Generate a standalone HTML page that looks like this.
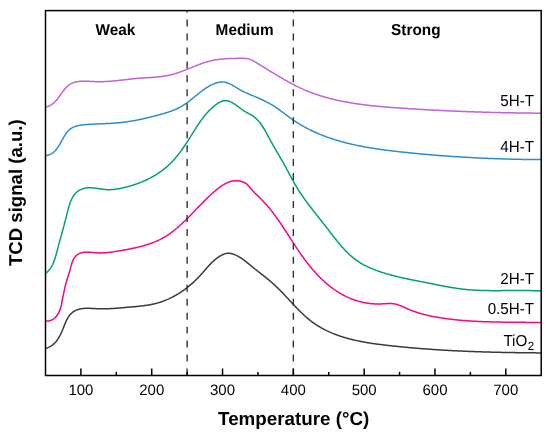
<!DOCTYPE html>
<html><head><meta charset="utf-8">
<style>
html,body{margin:0;padding:0;background:#fff;}
body{width:550px;height:432px;overflow:hidden;}
svg{display:block;}
text{font-family:"Liberation Sans",Arial,sans-serif;fill:#000;text-rendering:geometricPrecision;}
</style></head><body>
<svg width="550" height="432" viewBox="0 0 550 432">
<rect width="550" height="432" fill="#fff"/>
<g fill="none" stroke-width="1.5" stroke-linejoin="round" stroke-linecap="butt">
<path stroke="#BF62DB" d="M45.6,106.99 46.2,106.89 46.8,106.77 47.4,106.61 47.9,106.44 48.5,106.23 49.1,106.01 49.6,105.76 50.1,105.48 50.7,105.19 51.2,104.88 51.7,104.55 52.2,104.20 52.6,103.83 53.1,103.45 53.6,103.06 54.0,102.66 54.4,102.25 54.9,101.82 55.3,101.39 55.7,100.95 56.1,100.50 56.5,100.05 56.9,99.59 57.2,99.12 57.6,98.65 58.0,98.18 58.4,97.70 58.7,97.22 59.1,96.74 59.4,96.26 59.8,95.78 60.1,95.29 60.5,94.80 60.8,94.32 61.2,93.83 61.5,93.34 61.9,92.86 62.2,92.37 62.6,91.89 63.0,91.41 63.3,90.93 63.7,90.46 64.1,89.98 64.4,89.52 64.8,89.06 65.2,88.60 65.6,88.15 66.0,87.71 66.4,87.27 66.8,86.85 67.3,86.43 67.7,86.02 68.2,85.63 68.6,85.26 69.1,84.89 69.6,84.55 70.1,84.22 70.6,83.92 71.2,83.63 71.7,83.36 72.2,83.11 72.8,82.88 73.4,82.67 73.9,82.48 74.5,82.30 75.1,82.15 75.7,82.00 76.2,81.87 76.8,81.76 77.4,81.66 78.0,81.57 78.6,81.49 79.2,81.43 79.8,81.37 80.4,81.32 81.0,81.29 81.6,81.26 82.2,81.24 82.8,81.22 83.4,81.21 84.0,81.21 84.6,81.21 85.2,81.22 85.8,81.23 86.4,81.25 87.0,81.27 87.6,81.29 88.2,81.32 88.8,81.34 89.4,81.37 90.0,81.40 90.6,81.43 91.2,81.46 91.8,81.49 92.4,81.52 93.0,81.55 93.6,81.57 94.2,81.60 94.8,81.62 95.4,81.64 96.0,81.66 96.6,81.67 97.2,81.68 97.8,81.69 98.4,81.70 99.0,81.70 99.6,81.70 100.2,81.69 100.8,81.69 101.4,81.68 102.0,81.66 102.6,81.65 103.2,81.63 103.8,81.61 104.4,81.59 105.0,81.56 105.6,81.53 106.2,81.50 106.8,81.47 107.4,81.44 108.0,81.40 108.6,81.36 109.2,81.32 109.8,81.28 110.4,81.23 111.0,81.18 111.6,81.14 112.2,81.09 112.8,81.03 113.4,80.98 114.0,80.92 114.6,80.87 115.2,80.81 115.8,80.75 116.4,80.69 117.0,80.63 117.6,80.57 118.2,80.50 118.8,80.44 119.3,80.37 119.9,80.31 120.5,80.24 121.1,80.17 121.7,80.11 122.3,80.04 122.9,79.97 123.5,79.90 124.1,79.83 124.7,79.76 125.3,79.69 125.9,79.63 126.5,79.56 127.1,79.49 127.7,79.42 128.3,79.35 128.9,79.28 129.5,79.22 130.1,79.15 130.7,79.08 131.3,79.02 131.9,78.95 132.5,78.89 133.1,78.83 133.7,78.76 134.3,78.70 134.9,78.64 135.5,78.59 136.0,78.53 136.6,78.47 137.2,78.42 137.8,78.36 138.4,78.31 139.0,78.26 139.6,78.22 140.2,78.17 140.8,78.13 141.4,78.08 142.0,78.04 142.6,78.00 143.2,77.96 143.8,77.92 144.4,77.89 145.0,77.85 145.6,77.81 146.2,77.78 146.8,77.74 147.4,77.71 148.0,77.67 148.6,77.63 149.2,77.60 149.8,77.56 150.4,77.52 151.0,77.49 151.6,77.45 152.2,77.41 152.8,77.37 153.4,77.32 154.0,77.28 154.6,77.24 155.2,77.19 155.8,77.14 156.4,77.09 157.0,77.04 157.6,76.98 158.2,76.93 158.8,76.87 159.4,76.80 160.0,76.74 160.6,76.67 161.2,76.60 161.8,76.52 162.4,76.45 163.0,76.36 163.6,76.28 164.1,76.19 164.7,76.10 165.3,76.00 165.9,75.90 166.5,75.79 167.1,75.68 167.7,75.57 168.3,75.45 168.9,75.32 169.5,75.19 170.0,75.06 170.6,74.92 171.2,74.77 171.8,74.62 172.4,74.47 172.9,74.31 173.5,74.14 174.1,73.98 174.7,73.81 175.2,73.63 175.8,73.45 176.4,73.27 177.0,73.08 177.5,72.89 178.1,72.70 178.7,72.51 179.2,72.31 179.8,72.11 180.4,71.90 180.9,71.70 181.5,71.49 182.1,71.28 182.6,71.07 183.2,70.85 183.7,70.64 184.3,70.42 184.9,70.20 185.4,69.98 186.0,69.76 186.5,69.54 187.1,69.31 187.6,69.09 188.2,68.86 188.7,68.64 189.3,68.41 189.9,68.19 190.4,67.96 191.0,67.73 191.5,67.51 192.1,67.28 192.6,67.05 193.2,66.83 193.8,66.60 194.3,66.38 194.9,66.16 195.4,65.94 196.0,65.72 196.5,65.50 197.1,65.28 197.7,65.06 198.2,64.85 198.8,64.63 199.3,64.42 199.9,64.22 200.5,64.01 201.0,63.81 201.6,63.60 202.2,63.40 202.7,63.21 203.3,63.02 203.9,62.83 204.4,62.64 205.0,62.46 205.6,62.28 206.2,62.10 206.7,61.93 207.3,61.76 207.9,61.60 208.5,61.44 209.0,61.28 209.6,61.13 210.2,60.99 210.8,60.85 211.4,60.71 212.0,60.58 212.5,60.45 213.1,60.33 213.7,60.22 214.3,60.11 214.9,60.00 215.5,59.90 216.1,59.80 216.7,59.71 217.3,59.62 217.9,59.54 218.5,59.46 219.1,59.38 219.7,59.31 220.3,59.24 220.8,59.18 221.4,59.11 222.0,59.06 222.6,59.00 223.2,58.95 223.8,58.90 224.4,58.85 225.0,58.81 225.6,58.77 226.2,58.73 226.8,58.70 227.4,58.66 228.0,58.63 228.6,58.61 229.2,58.58 229.8,58.55 230.4,58.53 231.0,58.51 231.6,58.49 232.2,58.47 232.8,58.46 233.4,58.44 234.0,58.43 234.6,58.42 235.2,58.41 235.8,58.39 236.4,58.38 237.0,58.38 237.6,58.37 238.2,58.36 238.8,58.35 239.4,58.35 240.0,58.34 240.6,58.33 241.2,58.33 241.8,58.32 242.4,58.32 243.0,58.32 243.6,58.33 244.2,58.35 244.8,58.38 245.4,58.42 246.0,58.47 246.6,58.54 247.2,58.62 247.8,58.73 248.4,58.86 249.0,59.01 249.5,59.19 250.1,59.39 250.7,59.60 251.2,59.84 251.8,60.09 252.3,60.35 252.8,60.63 253.4,60.91 253.9,61.20 254.4,61.50 254.9,61.80 255.4,62.11 256.0,62.42 256.5,62.73 257.0,63.04 257.5,63.34 258.0,63.65 258.5,63.97 259.0,64.28 259.6,64.59 260.1,64.90 260.6,65.21 261.1,65.53 261.6,65.84 262.1,66.15 262.6,66.47 263.1,66.78 263.7,67.09 264.2,67.41 264.7,67.72 265.2,68.04 265.7,68.35 266.2,68.67 266.7,68.98 267.2,69.30 267.7,69.61 268.2,69.93 268.8,70.24 269.3,70.56 269.8,70.87 270.3,71.19 270.8,71.50 271.3,71.82 271.8,72.13 272.3,72.44 272.8,72.76 273.4,73.07 273.9,73.38 274.4,73.69 274.9,74.01 275.4,74.32 275.9,74.63 276.4,74.94 277.0,75.25 277.5,75.56 278.0,75.87 278.5,76.18 279.0,76.48 279.5,76.79 280.0,77.10 280.6,77.40 281.1,77.71 281.6,78.01 282.1,78.31 282.6,78.61 283.1,78.92 283.7,79.22 284.2,79.52 284.7,79.81 285.2,80.11 285.8,80.41 286.3,80.70 286.8,81.00 287.3,81.29 287.8,81.58 288.4,81.87 288.9,82.16 289.4,82.45 289.9,82.74 290.5,83.02 291.0,83.31 291.5,83.59 292.1,83.87 292.6,84.15 293.1,84.43 293.7,84.70 294.2,84.98 294.7,85.25 295.3,85.53 295.8,85.80 296.3,86.06 296.9,86.33 297.4,86.60 298.0,86.86 298.5,87.12 299.0,87.38 299.6,87.64 300.1,87.89 300.7,88.15 301.2,88.40 301.8,88.65 302.3,88.89 302.8,89.14 303.4,89.38 303.9,89.62 304.5,89.86 305.0,90.10 305.6,90.33 306.2,90.56 306.7,90.79 307.3,91.02 307.8,91.25 308.4,91.47 308.9,91.69 309.5,91.91 310.1,92.13 310.6,92.34 311.2,92.56 311.7,92.77 312.3,92.98 312.9,93.18 313.4,93.39 314.0,93.59 314.6,93.79 315.1,93.99 315.7,94.19 316.3,94.38 316.8,94.58 317.4,94.77 318.0,94.96 318.5,95.15 319.1,95.33 319.7,95.51 320.2,95.70 320.8,95.88 321.4,96.05 322.0,96.23 322.5,96.40 323.1,96.58 323.7,96.75 324.3,96.92 324.8,97.08 325.4,97.25 326.0,97.41 326.6,97.57 327.2,97.73 327.7,97.89 328.3,98.05 328.9,98.20 329.5,98.35 330.0,98.51 330.6,98.65 331.2,98.80 331.8,98.95 332.4,99.09 333.0,99.24 333.5,99.38 334.1,99.52 334.7,99.66 335.3,99.79 335.9,99.93 336.5,100.06 337.0,100.19 337.6,100.32 338.2,100.45 338.8,100.58 339.4,100.70 340.0,100.83 340.6,100.95 341.2,101.07 341.7,101.19 342.3,101.31 342.9,101.43 343.5,101.54 344.1,101.66 344.7,101.77 345.3,101.88 345.9,101.99 346.5,102.10 347.0,102.21 347.6,102.32 348.2,102.42 348.8,102.53 349.4,102.63 350.0,102.73 350.6,102.83 351.2,102.93 351.8,103.03 352.4,103.12 353.0,103.22 353.6,103.31 354.1,103.40 354.7,103.50 355.3,103.59 355.9,103.68 356.5,103.76 357.1,103.85 357.7,103.94 358.3,104.02 358.9,104.11 359.5,104.19 360.1,104.27 360.7,104.35 361.3,104.43 361.9,104.51 362.5,104.59 363.1,104.67 363.7,104.74 364.3,104.82 364.8,104.89 365.4,104.97 366.0,105.04 366.6,105.11 367.2,105.18 367.8,105.25 368.4,105.32 369.0,105.39 369.6,105.45 370.2,105.52 370.8,105.59 371.4,105.65 372.0,105.72 372.6,105.78 373.2,105.84 373.8,105.90 374.4,105.96 375.0,106.02 375.6,106.08 376.2,106.14 376.8,106.20 377.4,106.26 378.0,106.32 378.6,106.37 379.2,106.43 379.8,106.48 380.4,106.54 381.0,106.59 381.6,106.65 382.2,106.70 382.8,106.75 383.4,106.80 383.9,106.85 384.5,106.90 385.1,106.95 385.7,107.00 386.3,107.05 386.9,107.10 387.5,107.15 388.1,107.20 388.7,107.25 389.3,107.29 389.9,107.34 390.5,107.38 391.1,107.43 391.7,107.48 392.3,107.52 392.9,107.57 393.5,107.61 394.1,107.65 394.7,107.70 395.3,107.74 395.9,107.79 396.5,107.83 397.1,107.87 397.7,107.91 398.3,107.96 398.9,108.00 399.5,108.04 400.1,108.08 400.7,108.12 401.3,108.16 401.9,108.21 402.5,108.25 403.1,108.29 403.7,108.33 404.3,108.37 404.9,108.41 405.5,108.45 406.1,108.49 406.7,108.53 407.3,108.57 407.9,108.61 408.5,108.65 409.1,108.68 409.7,108.72 410.3,108.76 410.9,108.80 411.5,108.84 412.1,108.88 412.7,108.91 413.3,108.95 413.9,108.99 414.5,109.03 415.1,109.06 415.7,109.10 416.3,109.14 416.9,109.17 417.5,109.21 418.1,109.25 418.7,109.28 419.3,109.32 419.9,109.35 420.5,109.39 421.1,109.43 421.7,109.46 422.3,109.50 422.9,109.53 423.5,109.57 424.1,109.60 424.7,109.63 425.3,109.67 425.9,109.70 426.5,109.74 427.1,109.77 427.7,109.80 428.3,109.84 428.9,109.87 429.5,109.90 430.0,109.93 430.6,109.97 431.2,110.00 431.8,110.03 432.4,110.06 433.0,110.10 433.6,110.13 434.2,110.16 434.8,110.19 435.4,110.22 436.0,110.25 436.6,110.28 437.2,110.31 437.8,110.34 438.4,110.37 439.0,110.40 439.6,110.43 440.2,110.46 440.8,110.49 441.4,110.52 442.0,110.55 442.6,110.58 443.2,110.61 443.8,110.64 444.4,110.67 445.0,110.70 445.6,110.72 446.2,110.75 446.8,110.78 447.4,110.81 448.0,110.83 448.6,110.86 449.2,110.89 449.8,110.92 450.4,110.94 451.0,110.97 451.6,111.00 452.2,111.02 452.8,111.05 453.4,111.07 454.0,111.10 454.6,111.13 455.2,111.15 455.8,111.18 456.4,111.20 457.0,111.23 457.6,111.25 458.2,111.28 458.8,111.30 459.4,111.33 460.0,111.35 460.6,111.37 461.2,111.40 461.8,111.42 462.4,111.44 463.0,111.47 463.6,111.49 464.2,111.51 464.8,111.54 465.4,111.56 466.0,111.58 466.6,111.60 467.2,111.63 467.8,111.65 468.4,111.67 469.0,111.69 469.6,111.71 470.2,111.74 470.8,111.76 471.4,111.78 472.0,111.80 472.6,111.82 473.2,111.84 473.8,111.86 474.4,111.88 475.0,111.90 475.6,111.92 476.2,111.94 476.8,111.96 477.4,111.98 478.0,112.00 478.6,112.02 479.2,112.04 479.8,112.06 480.4,112.07 481.0,112.09 481.6,112.11 482.2,112.13 482.8,112.15 483.4,112.16 484.0,112.18 484.6,112.20 485.2,112.22 485.8,112.23 486.4,112.25 487.0,112.27 487.6,112.29 488.2,112.30 488.8,112.32 489.4,112.33 490.0,112.35 490.6,112.37 491.2,112.38 491.8,112.40 492.4,112.41 493.0,112.43 493.6,112.44 494.2,112.46 494.8,112.47 495.4,112.49 496.0,112.50 496.6,112.52 497.2,112.53 497.8,112.55 498.4,112.56 499.0,112.57 499.6,112.59 500.2,112.60 500.8,112.62 501.4,112.63 502.0,112.64 502.6,112.66 503.2,112.67 503.8,112.68 504.4,112.69 505.0,112.71 505.6,112.72 506.2,112.73 506.8,112.74 507.4,112.75 508.0,112.77 508.6,112.78 509.2,112.79 509.8,112.80 510.4,112.81 511.0,112.82 511.6,112.83 512.2,112.84 512.8,112.85 513.4,112.86 514.0,112.87 514.6,112.88 515.2,112.89 515.8,112.90 516.4,112.91 517.0,112.92 517.6,112.93 518.2,112.94 518.8,112.95 519.4,112.96 520.0,112.97 520.6,112.98 521.2,112.99 521.8,112.99 522.4,113.00 523.0,113.01 523.6,113.02 524.2,113.03 524.8,113.03 525.4,113.04 526.0,113.05 526.6,113.06 527.2,113.06 527.8,113.07 528.4,113.08 529.0,113.08 529.6,113.09 530.2,113.10 530.8,113.10 531.4,113.11 532.0,113.12 532.6,113.12 533.2,113.13 533.8,113.13 534.4,113.14 535.0,113.15 535.6,113.15 536.2,113.16 536.8,113.16 537.4,113.17 538.0,113.17 538.6,113.18 539.2,113.18 539.8,113.18 540.4,113.19 541.0,113.19"/>
<path stroke="#2A8DD2" d="M45.6,155.59 46.2,155.53 46.8,155.45 47.4,155.35 48.0,155.21 48.5,155.06 49.1,154.87 49.7,154.66 50.2,154.43 50.8,154.17 51.3,153.88 51.8,153.58 52.3,153.25 52.8,152.90 53.3,152.53 53.7,152.15 54.2,151.75 54.6,151.33 55.0,150.90 55.4,150.46 55.8,150.01 56.2,149.55 56.6,149.08 57.0,148.60 57.3,148.11 57.7,147.62 58.0,147.12 58.3,146.62 58.6,146.12 59.0,145.61 59.3,145.09 59.6,144.58 59.9,144.06 60.2,143.54 60.5,143.01 60.8,142.49 61.1,141.97 61.4,141.44 61.6,140.91 61.9,140.39 62.2,139.86 62.5,139.34 62.8,138.81 63.1,138.29 63.4,137.77 63.7,137.25 64.0,136.73 64.3,136.22 64.6,135.70 64.9,135.20 65.3,134.69 65.6,134.20 65.9,133.70 66.3,133.22 66.7,132.74 67.0,132.26 67.4,131.80 67.8,131.35 68.2,130.91 68.6,130.48 69.1,130.06 69.5,129.66 70.0,129.28 70.4,128.91 70.9,128.57 71.4,128.24 72.0,127.93 72.5,127.64 73.0,127.37 73.6,127.12 74.1,126.88 74.7,126.66 75.2,126.45 75.8,126.26 76.4,126.09 77.0,125.92 77.5,125.77 78.1,125.63 78.7,125.50 79.3,125.38 79.9,125.27 80.5,125.17 81.1,125.08 81.7,125.00 82.3,124.92 82.9,124.85 83.4,124.78 84.0,124.72 84.6,124.66 85.2,124.61 85.8,124.56 86.4,124.52 87.0,124.48 87.6,124.44 88.2,124.40 88.8,124.36 89.4,124.33 90.0,124.29 90.6,124.26 91.2,124.23 91.8,124.19 92.4,124.16 93.0,124.13 93.6,124.11 94.2,124.08 94.8,124.05 95.4,124.03 96.0,124.00 96.6,123.97 97.2,123.95 97.8,123.93 98.4,123.90 99.0,123.88 99.6,123.85 100.2,123.83 100.8,123.81 101.4,123.78 102.0,123.76 102.6,123.74 103.2,123.71 103.8,123.69 104.4,123.67 105.0,123.64 105.6,123.62 106.2,123.59 106.8,123.56 107.4,123.54 108.0,123.51 108.6,123.48 109.2,123.45 109.8,123.42 110.4,123.39 111.0,123.35 111.6,123.32 112.2,123.28 112.8,123.24 113.4,123.21 114.0,123.17 114.6,123.12 115.2,123.08 115.8,123.04 116.4,122.99 117.0,122.94 117.6,122.89 118.2,122.84 118.8,122.78 119.4,122.72 120.0,122.66 120.6,122.60 121.2,122.54 121.8,122.47 122.4,122.41 123.0,122.33 123.6,122.26 124.2,122.19 124.8,122.11 125.4,122.03 126.0,121.95 126.5,121.87 127.1,121.78 127.7,121.70 128.3,121.61 128.9,121.52 129.5,121.42 130.1,121.33 130.7,121.23 131.3,121.13 131.9,121.03 132.5,120.93 133.1,120.83 133.7,120.72 134.2,120.62 134.8,120.51 135.4,120.40 136.0,120.29 136.6,120.17 137.2,120.06 137.8,119.94 138.4,119.82 139.0,119.70 139.5,119.58 140.1,119.46 140.7,119.34 141.3,119.21 141.9,119.08 142.5,118.96 143.1,118.83 143.7,118.69 144.2,118.56 144.8,118.43 145.4,118.29 146.0,118.16 146.6,118.02 147.2,117.88 147.7,117.74 148.3,117.60 148.9,117.46 149.5,117.32 150.1,117.17 150.7,117.03 151.2,116.88 151.8,116.74 152.4,116.59 153.0,116.44 153.6,116.29 154.2,116.14 154.7,115.98 155.3,115.83 155.9,115.68 156.5,115.52 157.1,115.37 157.6,115.21 158.2,115.05 158.8,114.90 159.4,114.74 159.9,114.58 160.5,114.42 161.1,114.26 161.7,114.09 162.3,113.93 162.8,113.76 163.4,113.60 164.0,113.43 164.6,113.26 165.1,113.08 165.7,112.91 166.3,112.73 166.9,112.55 167.4,112.37 168.0,112.18 168.6,112.00 169.1,111.80 169.7,111.61 170.3,111.41 170.8,111.21 171.4,111.01 172.0,110.80 172.5,110.58 173.1,110.37 173.6,110.15 174.2,109.92 174.8,109.69 175.3,109.46 175.9,109.22 176.4,108.98 177.0,108.73 177.5,108.47 178.0,108.21 178.6,107.95 179.1,107.68 179.6,107.40 180.2,107.12 180.7,106.83 181.2,106.54 181.7,106.24 182.3,105.94 182.8,105.63 183.3,105.31 183.8,104.99 184.3,104.66 184.8,104.33 185.3,103.99 185.8,103.65 186.3,103.30 186.8,102.95 187.3,102.60 187.7,102.24 188.2,101.88 188.7,101.52 189.2,101.16 189.6,100.79 190.1,100.42 190.6,100.05 191.1,99.67 191.5,99.30 192.0,98.92 192.5,98.54 192.9,98.17 193.4,97.79 193.9,97.41 194.3,97.02 194.8,96.64 195.2,96.26 195.7,95.88 196.2,95.50 196.6,95.12 197.1,94.74 197.6,94.36 198.0,93.99 198.5,93.61 199.0,93.23 199.4,92.86 199.9,92.49 200.4,92.12 200.9,91.75 201.3,91.39 201.8,91.03 202.3,90.67 202.8,90.31 203.3,89.96 203.8,89.61 204.2,89.26 204.7,88.92 205.2,88.58 205.7,88.25 206.2,87.92 206.7,87.59 207.2,87.27 207.8,86.96 208.3,86.65 208.8,86.34 209.3,86.04 209.8,85.75 210.4,85.47 210.9,85.19 211.4,84.92 212.0,84.66 212.5,84.41 213.1,84.16 213.6,83.93 214.2,83.70 214.7,83.49 215.3,83.28 215.9,83.09 216.4,82.91 217.0,82.75 217.6,82.60 218.2,82.46 218.8,82.34 219.4,82.24 220.0,82.15 220.5,82.08 221.1,82.03 221.7,82.01 222.3,82.00 222.9,82.01 223.5,82.04 224.1,82.10 224.7,82.18 225.3,82.29 225.9,82.41 226.5,82.56 227.1,82.74 227.6,82.93 228.2,83.13 228.8,83.36 229.3,83.60 229.9,83.85 230.4,84.11 230.9,84.38 231.5,84.66 232.0,84.95 232.5,85.24 233.0,85.55 233.5,85.85 234.1,86.16 234.6,86.47 235.1,86.79 235.6,87.10 236.1,87.42 236.6,87.74 237.1,88.06 237.6,88.37 238.1,88.68 238.7,88.99 239.2,89.30 239.7,89.60 240.2,89.90 240.7,90.19 241.3,90.47 241.8,90.75 242.3,91.02 242.9,91.29 243.4,91.56 244.0,91.82 244.5,92.08 245.0,92.33 245.6,92.58 246.1,92.83 246.7,93.07 247.2,93.31 247.8,93.55 248.3,93.79 248.9,94.03 249.4,94.27 250.0,94.50 250.5,94.74 251.1,94.97 251.6,95.21 252.2,95.44 252.7,95.67 253.3,95.91 253.9,96.14 254.4,96.38 255.0,96.61 255.5,96.85 256.1,97.08 256.6,97.32 257.2,97.56 257.7,97.80 258.3,98.04 258.8,98.28 259.4,98.52 259.9,98.76 260.5,99.01 261.0,99.25 261.6,99.50 262.1,99.75 262.6,100.01 263.2,100.26 263.7,100.52 264.3,100.78 264.8,101.04 265.3,101.30 265.9,101.57 266.4,101.84 267.0,102.12 267.5,102.39 268.0,102.67 268.5,102.96 269.1,103.24 269.6,103.53 270.1,103.83 270.6,104.13 271.2,104.43 271.7,104.73 272.2,105.04 272.7,105.36 273.2,105.67 273.7,105.99 274.2,106.32 274.7,106.65 275.2,106.98 275.7,107.31 276.2,107.65 276.7,107.99 277.2,108.33 277.7,108.67 278.2,109.02 278.7,109.36 279.2,109.71 279.7,110.07 280.1,110.42 280.6,110.77 281.1,111.13 281.6,111.49 282.1,111.84 282.6,112.20 283.0,112.56 283.5,112.92 284.0,113.28 284.5,113.64 285.0,114.00 285.4,114.36 285.9,114.72 286.4,115.08 286.9,115.44 287.4,115.80 287.8,116.16 288.3,116.51 288.8,116.87 289.3,117.23 289.8,117.58 290.3,117.93 290.8,118.28 291.2,118.63 291.7,118.98 292.2,119.33 292.7,119.67 293.2,120.01 293.7,120.35 294.2,120.68 294.7,121.02 295.2,121.35 295.7,121.68 296.2,122.01 296.7,122.33 297.2,122.65 297.7,122.97 298.2,123.29 298.7,123.60 299.3,123.91 299.8,124.22 300.3,124.53 300.8,124.84 301.3,125.14 301.8,125.44 302.4,125.74 302.9,126.04 303.4,126.33 303.9,126.62 304.5,126.91 305.0,127.20 305.5,127.49 306.0,127.77 306.6,128.05 307.1,128.33 307.6,128.61 308.2,128.88 308.7,129.15 309.2,129.42 309.8,129.69 310.3,129.96 310.9,130.22 311.4,130.48 311.9,130.74 312.5,131.00 313.0,131.26 313.6,131.51 314.1,131.76 314.7,132.01 315.2,132.26 315.8,132.50 316.3,132.75 316.8,132.99 317.4,133.23 318.0,133.46 318.5,133.70 319.1,133.93 319.6,134.16 320.2,134.39 320.7,134.62 321.3,134.85 321.8,135.07 322.4,135.29 323.0,135.51 323.5,135.73 324.1,135.94 324.6,136.16 325.2,136.37 325.8,136.58 326.3,136.79 326.9,136.99 327.4,137.20 328.0,137.40 328.6,137.60 329.1,137.80 329.7,138.00 330.3,138.19 330.8,138.38 331.4,138.58 332.0,138.76 332.6,138.95 333.1,139.14 333.7,139.32 334.3,139.51 334.8,139.69 335.4,139.86 336.0,140.04 336.6,140.22 337.1,140.39 337.7,140.56 338.3,140.73 338.9,140.90 339.4,141.07 340.0,141.24 340.6,141.40 341.2,141.56 341.7,141.72 342.3,141.88 342.9,142.04 343.5,142.20 344.1,142.35 344.6,142.50 345.2,142.65 345.8,142.80 346.4,142.95 347.0,143.10 347.6,143.24 348.1,143.39 348.7,143.53 349.3,143.67 349.9,143.81 350.5,143.95 351.1,144.09 351.6,144.22 352.2,144.36 352.8,144.49 353.4,144.62 354.0,144.75 354.6,144.88 355.2,145.01 355.7,145.13 356.3,145.26 356.9,145.38 357.5,145.50 358.1,145.62 358.7,145.74 359.3,145.86 359.9,145.98 360.4,146.09 361.0,146.21 361.6,146.32 362.2,146.44 362.8,146.55 363.4,146.66 364.0,146.77 364.6,146.87 365.2,146.98 365.8,147.09 366.3,147.19 366.9,147.30 367.5,147.40 368.1,147.50 368.7,147.60 369.3,147.70 369.9,147.80 370.5,147.90 371.1,147.99 371.7,148.09 372.3,148.19 372.9,148.28 373.5,148.37 374.0,148.46 374.6,148.56 375.2,148.65 375.8,148.74 376.4,148.82 377.0,148.91 377.6,149.00 378.2,149.09 378.8,149.17 379.4,149.26 380.0,149.34 380.6,149.42 381.2,149.51 381.8,149.59 382.4,149.67 383.0,149.75 383.5,149.83 384.1,149.91 384.7,149.99 385.3,150.07 385.9,150.14 386.5,150.22 387.1,150.30 387.7,150.37 388.3,150.45 388.9,150.52 389.5,150.59 390.1,150.67 390.7,150.74 391.3,150.81 391.9,150.88 392.5,150.95 393.1,151.03 393.7,151.10 394.3,151.17 394.9,151.23 395.5,151.30 396.1,151.37 396.7,151.44 397.3,151.51 397.8,151.58 398.4,151.64 399.0,151.71 399.6,151.78 400.2,151.84 400.8,151.91 401.4,151.97 402.0,152.04 402.6,152.10 403.2,152.17 403.8,152.23 404.4,152.30 405.0,152.36 405.6,152.42 406.2,152.48 406.8,152.55 407.4,152.61 408.0,152.67 408.6,152.73 409.2,152.80 409.8,152.86 410.4,152.92 411.0,152.98 411.6,153.04 412.2,153.10 412.8,153.16 413.4,153.22 414.0,153.28 414.6,153.33 415.2,153.39 415.8,153.45 416.4,153.51 416.9,153.57 417.5,153.62 418.1,153.68 418.7,153.74 419.3,153.79 419.9,153.85 420.5,153.91 421.1,153.96 421.7,154.02 422.3,154.07 422.9,154.13 423.5,154.18 424.1,154.23 424.7,154.29 425.3,154.34 425.9,154.39 426.5,154.45 427.1,154.50 427.7,154.55 428.3,154.60 428.9,154.65 429.5,154.71 430.1,154.76 430.7,154.81 431.3,154.86 431.9,154.91 432.5,154.96 433.1,155.01 433.7,155.06 434.3,155.11 434.9,155.16 435.5,155.20 436.1,155.25 436.7,155.30 437.3,155.35 437.9,155.39 438.5,155.44 439.1,155.49 439.7,155.53 440.3,155.58 440.9,155.63 441.5,155.67 442.1,155.72 442.7,155.76 443.3,155.81 443.9,155.85 444.5,155.90 445.1,155.94 445.7,155.98 446.3,156.03 446.9,156.07 447.5,156.11 448.1,156.16 448.6,156.20 449.2,156.24 449.8,156.28 450.4,156.32 451.0,156.36 451.6,156.40 452.2,156.44 452.8,156.49 453.4,156.53 454.0,156.56 454.6,156.60 455.2,156.64 455.8,156.68 456.4,156.72 457.0,156.76 457.6,156.80 458.2,156.84 458.8,156.87 459.4,156.91 460.0,156.95 460.6,156.98 461.2,157.02 461.8,157.06 462.4,157.09 463.0,157.13 463.6,157.16 464.2,157.20 464.8,157.23 465.4,157.27 466.0,157.30 466.6,157.34 467.2,157.37 467.8,157.40 468.4,157.44 469.0,157.47 469.6,157.50 470.2,157.53 470.8,157.57 471.4,157.60 472.0,157.63 472.6,157.66 473.2,157.69 473.8,157.72 474.4,157.75 475.0,157.78 475.6,157.81 476.2,157.84 476.8,157.87 477.4,157.90 478.0,157.93 478.6,157.96 479.2,157.99 479.8,158.02 480.4,158.05 481.0,158.07 481.6,158.10 482.2,158.13 482.8,158.16 483.4,158.18 484.0,158.21 484.6,158.23 485.2,158.26 485.8,158.29 486.4,158.31 487.0,158.34 487.6,158.36 488.2,158.39 488.8,158.41 489.4,158.44 490.0,158.46 490.6,158.48 491.2,158.51 491.8,158.53 492.4,158.55 493.0,158.58 493.6,158.60 494.2,158.62 494.8,158.64 495.4,158.66 496.0,158.68 496.6,158.71 497.2,158.73 497.8,158.75 498.4,158.77 499.0,158.79 499.6,158.81 500.2,158.83 500.8,158.85 501.4,158.87 502.0,158.89 502.6,158.90 503.2,158.92 503.8,158.94 504.4,158.96 505.0,158.98 505.6,158.99 506.2,159.01 506.8,159.03 507.4,159.05 508.0,159.06 508.6,159.08 509.2,159.09 509.8,159.11 510.4,159.13 511.0,159.14 511.6,159.16 512.2,159.17 512.8,159.19 513.4,159.20 514.0,159.22 514.6,159.23 515.2,159.24 515.8,159.26 516.4,159.27 517.0,159.28 517.6,159.30 518.2,159.31 518.8,159.32 519.4,159.33 520.0,159.34 520.6,159.36 521.2,159.37 521.8,159.38 522.4,159.39 523.0,159.40 523.6,159.41 524.2,159.42 524.8,159.43 525.4,159.44 526.0,159.45 526.6,159.46 527.2,159.47 527.8,159.48 528.4,159.49 529.0,159.50 529.6,159.50 530.2,159.51 530.8,159.52 531.4,159.53 532.0,159.54 532.6,159.54 533.2,159.55 533.8,159.56 534.4,159.56 535.0,159.57 535.6,159.58 536.2,159.58 536.8,159.59 537.4,159.59 538.0,159.60 538.6,159.60 539.2,159.61 539.8,159.61 540.4,159.62 541.0,159.62"/>
<path stroke="#03A266" d="M45.6,273.30 46.1,272.94 46.6,272.57 47.0,272.19 47.5,271.79 47.9,271.37 48.3,270.95 48.7,270.51 49.1,270.06 49.5,269.60 49.9,269.12 50.2,268.64 50.6,268.15 50.9,267.65 51.2,267.14 51.5,266.63 51.8,266.10 52.1,265.58 52.4,265.04 52.7,264.50 52.9,263.96 53.2,263.41 53.4,262.86 53.6,262.30 53.8,261.75 54.1,261.18 54.3,260.62 54.5,260.05 54.7,259.48 54.8,258.91 55.0,258.34 55.2,257.77 55.4,257.19 55.5,256.62 55.7,256.04 55.9,255.46 56.0,254.88 56.2,254.30 56.3,253.72 56.5,253.14 56.6,252.56 56.8,251.98 56.9,251.40 57.1,250.82 57.2,250.24 57.4,249.66 57.6,249.08 57.7,248.50 57.9,247.92 58.0,247.33 58.2,246.76 58.3,246.18 58.5,245.60 58.6,245.02 58.8,244.44 58.9,243.86 59.1,243.28 59.3,242.70 59.4,242.12 59.6,241.54 59.7,240.96 59.9,240.38 60.1,239.80 60.2,239.22 60.4,238.65 60.5,238.07 60.7,237.49 60.9,236.91 61.0,236.33 61.2,235.75 61.3,235.17 61.5,234.59 61.7,234.02 61.8,233.44 62.0,232.86 62.1,232.28 62.3,231.70 62.5,231.12 62.6,230.54 62.8,229.96 62.9,229.39 63.1,228.81 63.2,228.23 63.4,227.65 63.6,227.07 63.7,226.49 63.9,225.91 64.0,225.33 64.2,224.75 64.3,224.17 64.5,223.59 64.6,223.01 64.8,222.43 65.0,221.85 65.1,221.27 65.3,220.69 65.4,220.11 65.6,219.53 65.7,218.95 65.9,218.36 66.0,217.78 66.2,217.20 66.3,216.62 66.5,216.04 66.6,215.45 66.8,214.87 66.9,214.29 67.0,213.71 67.2,213.12 67.3,212.54 67.5,211.96 67.6,211.38 67.8,210.79 67.9,210.21 68.1,209.63 68.2,209.05 68.4,208.47 68.5,207.89 68.7,207.31 68.9,206.74 69.0,206.16 69.2,205.58 69.4,205.01 69.6,204.44 69.7,203.87 69.9,203.30 70.1,202.74 70.3,202.17 70.6,201.61 70.8,201.05 71.0,200.50 71.3,199.95 71.5,199.40 71.8,198.86 72.0,198.33 72.3,197.80 72.6,197.27 72.9,196.75 73.2,196.24 73.6,195.74 73.9,195.25 74.3,194.77 74.6,194.30 75.0,193.84 75.4,193.39 75.8,192.96 76.3,192.54 76.7,192.14 77.2,191.76 77.7,191.39 78.1,191.05 78.6,190.72 79.2,190.40 79.7,190.11 80.2,189.83 80.8,189.57 81.3,189.33 81.9,189.11 82.4,188.90 83.0,188.71 83.6,188.54 84.2,188.39 84.7,188.25 85.3,188.13 85.9,188.02 86.5,187.93 87.1,187.86 87.7,187.81 88.3,187.77 88.9,187.74 89.5,187.73 90.1,187.73 90.7,187.74 91.3,187.77 91.9,187.80 92.5,187.84 93.1,187.89 93.7,187.95 94.3,188.02 94.9,188.09 95.5,188.16 96.1,188.24 96.7,188.33 97.3,188.41 97.9,188.50 98.5,188.59 99.0,188.68 99.6,188.77 100.2,188.86 100.8,188.95 101.4,189.04 102.0,189.12 102.6,189.20 103.2,189.28 103.8,189.35 104.4,189.41 105.0,189.47 105.6,189.52 106.2,189.57 106.8,189.60 107.4,189.63 108.0,189.65 108.6,189.66 109.2,189.66 109.8,189.65 110.4,189.64 111.0,189.61 111.6,189.58 112.2,189.54 112.8,189.50 113.4,189.45 114.0,189.39 114.6,189.32 115.2,189.25 115.8,189.18 116.4,189.09 117.0,189.00 117.6,188.91 118.1,188.81 118.7,188.71 119.3,188.60 119.9,188.48 120.5,188.37 121.1,188.24 121.7,188.12 122.3,187.99 122.9,187.86 123.4,187.72 124.0,187.58 124.6,187.44 125.2,187.30 125.8,187.15 126.4,187.00 126.9,186.85 127.5,186.70 128.1,186.54 128.7,186.38 129.3,186.22 129.8,186.05 130.4,185.88 131.0,185.71 131.6,185.54 132.1,185.36 132.7,185.18 133.3,185.00 133.8,184.81 134.4,184.62 135.0,184.43 135.6,184.24 136.1,184.04 136.7,183.84 137.2,183.64 137.8,183.43 138.4,183.22 138.9,183.01 139.5,182.80 140.1,182.58 140.6,182.36 141.2,182.13 141.7,181.91 142.3,181.68 142.8,181.45 143.4,181.21 143.9,180.97 144.5,180.73 145.0,180.48 145.6,180.24 146.1,179.98 146.7,179.73 147.2,179.47 147.8,179.21 148.3,178.95 148.8,178.68 149.4,178.41 149.9,178.14 150.4,177.86 151.0,177.58 151.5,177.30 152.0,177.01 152.5,176.72 153.1,176.43 153.6,176.13 154.1,175.83 154.6,175.52 155.1,175.22 155.7,174.91 156.2,174.59 156.7,174.28 157.2,173.96 157.7,173.63 158.2,173.30 158.7,172.97 159.2,172.64 159.7,172.30 160.2,171.96 160.7,171.61 161.2,171.26 161.7,170.91 162.1,170.56 162.6,170.20 163.1,169.83 163.6,169.47 164.0,169.10 164.5,168.72 165.0,168.34 165.4,167.96 165.9,167.58 166.4,167.19 166.8,166.80 167.3,166.40 167.7,166.00 168.2,165.60 168.6,165.19 169.0,164.78 169.5,164.37 169.9,163.95 170.3,163.53 170.8,163.11 171.2,162.68 171.6,162.25 172.0,161.82 172.4,161.38 172.8,160.94 173.2,160.50 173.7,160.06 174.1,159.61 174.4,159.16 174.8,158.71 175.2,158.25 175.6,157.79 176.0,157.34 176.4,156.87 176.8,156.41 177.2,155.94 177.5,155.48 177.9,155.01 178.3,154.53 178.6,154.06 179.0,153.59 179.4,153.11 179.7,152.63 180.1,152.15 180.5,151.67 180.8,151.18 181.2,150.70 181.5,150.21 181.9,149.72 182.2,149.23 182.6,148.74 182.9,148.25 183.2,147.76 183.6,147.27 183.9,146.77 184.3,146.27 184.6,145.78 184.9,145.28 185.3,144.78 185.6,144.28 185.9,143.78 186.3,143.28 186.6,142.78 186.9,142.28 187.3,141.77 187.6,141.27 187.9,140.76 188.2,140.26 188.6,139.75 188.9,139.25 189.2,138.74 189.5,138.23 189.8,137.73 190.2,137.22 190.5,136.71 190.8,136.21 191.1,135.70 191.4,135.19 191.8,134.68 192.1,134.17 192.4,133.66 192.7,133.16 193.0,132.65 193.4,132.14 193.7,131.63 194.0,131.12 194.3,130.62 194.6,130.11 195.0,129.60 195.3,129.09 195.6,128.59 195.9,128.08 196.3,127.58 196.6,127.07 196.9,126.57 197.2,126.06 197.6,125.56 197.9,125.06 198.2,124.56 198.6,124.06 198.9,123.56 199.2,123.07 199.6,122.57 199.9,122.08 200.3,121.58 200.6,121.09 200.9,120.60 201.3,120.12 201.7,119.63 202.0,119.15 202.4,118.67 202.7,118.19 203.1,117.71 203.5,117.23 203.8,116.76 204.2,116.29 204.6,115.82 205.0,115.36 205.3,114.89 205.7,114.43 206.1,113.98 206.5,113.52 206.9,113.07 207.3,112.62 207.7,112.18 208.1,111.74 208.5,111.30 208.9,110.87 209.4,110.44 209.8,110.01 210.2,109.59 210.6,109.17 211.1,108.76 211.5,108.35 212.0,107.94 212.4,107.54 212.8,107.14 213.3,106.75 213.8,106.36 214.2,105.98 214.7,105.60 215.2,105.22 215.6,104.86 216.1,104.50 216.6,104.14 217.1,103.80 217.6,103.46 218.1,103.14 218.6,102.82 219.1,102.52 219.6,102.23 220.2,101.96 220.7,101.71 221.3,101.48 221.8,101.27 222.4,101.09 223.0,100.94 223.6,100.81 224.2,100.72 224.8,100.66 225.4,100.65 226.0,100.67 226.6,100.72 227.2,100.81 227.8,100.93 228.3,101.08 228.9,101.25 229.5,101.44 230.0,101.65 230.6,101.89 231.1,102.14 231.7,102.40 232.2,102.68 232.7,102.97 233.3,103.27 233.8,103.58 234.3,103.90 234.8,104.23 235.3,104.56 235.8,104.91 236.3,105.25 236.8,105.61 237.2,105.96 237.7,106.32 238.2,106.68 238.7,107.04 239.2,107.41 239.6,107.77 240.1,108.13 240.6,108.49 241.1,108.85 241.6,109.21 242.0,109.56 242.5,109.91 243.0,110.25 243.5,110.59 244.0,110.92 244.5,111.24 245.0,111.56 245.6,111.86 246.1,112.16 246.6,112.45 247.1,112.73 247.7,113.02 248.2,113.29 248.7,113.57 249.3,113.85 249.8,114.13 250.3,114.42 250.8,114.71 251.4,115.01 251.9,115.32 252.4,115.64 252.9,115.97 253.4,116.32 253.9,116.67 254.3,117.04 254.8,117.41 255.3,117.80 255.7,118.19 256.2,118.60 256.6,119.01 257.0,119.43 257.4,119.86 257.9,120.30 258.3,120.74 258.7,121.19 259.0,121.65 259.4,122.11 259.8,122.58 260.2,123.05 260.5,123.53 260.9,124.01 261.2,124.50 261.6,124.99 261.9,125.49 262.3,125.99 262.6,126.49 262.9,126.99 263.2,127.50 263.5,128.01 263.9,128.52 264.2,129.04 264.5,129.56 264.8,130.07 265.1,130.60 265.4,131.12 265.7,131.64 266.0,132.16 266.2,132.69 266.5,133.22 266.8,133.74 267.1,134.27 267.4,134.80 267.7,135.33 268.0,135.86 268.2,136.39 268.5,136.92 268.8,137.45 269.1,137.97 269.4,138.50 269.7,139.03 270.0,139.56 270.2,140.08 270.5,140.61 270.8,141.14 271.1,141.66 271.4,142.19 271.7,142.71 272.0,143.23 272.3,143.76 272.6,144.28 272.9,144.80 273.2,145.32 273.5,145.84 273.8,146.36 274.1,146.88 274.4,147.40 274.7,147.92 275.0,148.44 275.3,148.96 275.6,149.48 275.9,150.00 276.2,150.52 276.5,151.04 276.8,151.56 277.1,152.08 277.4,152.60 277.7,153.11 278.0,153.63 278.3,154.15 278.6,154.67 278.9,155.19 279.2,155.71 279.5,156.23 279.8,156.74 280.1,157.26 280.4,157.78 280.7,158.30 281.0,158.82 281.3,159.34 281.6,159.86 281.9,160.38 282.2,160.90 282.5,161.43 282.8,161.95 283.1,162.47 283.4,162.99 283.7,163.52 284.0,164.04 284.3,164.56 284.6,165.09 284.9,165.61 285.1,166.14 285.4,166.66 285.7,167.19 286.0,167.72 286.3,168.25 286.6,168.78 286.9,169.30 287.2,169.83 287.4,170.36 287.7,170.89 288.0,171.42 288.3,171.95 288.6,172.48 288.8,173.01 289.1,173.54 289.4,174.08 289.7,174.61 290.0,175.14 290.2,175.67 290.5,176.20 290.8,176.73 291.1,177.26 291.4,177.78 291.7,178.31 291.9,178.84 292.2,179.37 292.5,179.90 292.8,180.42 293.1,180.95 293.4,181.47 293.7,182.00 294.0,182.52 294.3,183.04 294.6,183.57 294.9,184.09 295.2,184.61 295.5,185.12 295.8,185.64 296.1,186.16 296.4,186.67 296.7,187.19 297.0,187.70 297.3,188.21 297.6,188.72 298.0,189.23 298.3,189.74 298.6,190.24 298.9,190.75 299.3,191.25 299.6,191.76 299.9,192.26 300.2,192.76 300.6,193.26 300.9,193.76 301.2,194.26 301.6,194.76 301.9,195.25 302.3,195.75 302.6,196.24 302.9,196.73 303.3,197.23 303.6,197.72 304.0,198.21 304.3,198.70 304.7,199.19 305.0,199.67 305.4,200.16 305.7,200.65 306.1,201.13 306.4,201.62 306.8,202.10 307.1,202.58 307.5,203.07 307.9,203.55 308.2,204.03 308.6,204.51 308.9,204.99 309.3,205.47 309.7,205.95 310.0,206.42 310.4,206.90 310.8,207.38 311.1,207.85 311.5,208.33 311.9,208.80 312.2,209.28 312.6,209.75 313.0,210.23 313.3,210.70 313.7,211.17 314.1,211.65 314.4,212.12 314.8,212.59 315.2,213.06 315.6,213.54 315.9,214.01 316.3,214.48 316.7,214.95 317.0,215.42 317.4,215.89 317.8,216.36 318.2,216.83 318.5,217.30 318.9,217.77 319.3,218.24 319.6,218.71 320.0,219.18 320.4,219.65 320.8,220.13 321.1,220.60 321.5,221.07 321.9,221.54 322.3,222.01 322.6,222.48 323.0,222.95 323.4,223.42 323.7,223.89 324.1,224.37 324.5,224.84 324.9,225.31 325.2,225.78 325.6,226.26 326.0,226.73 326.3,227.20 326.7,227.68 327.1,228.15 327.4,228.63 327.8,229.10 328.2,229.58 328.5,230.05 328.9,230.53 329.3,231.01 329.6,231.48 330.0,231.96 330.4,232.43 330.7,232.91 331.1,233.39 331.5,233.86 331.8,234.34 332.2,234.81 332.6,235.29 332.9,235.76 333.3,236.24 333.7,236.71 334.0,237.18 334.4,237.66 334.8,238.13 335.2,238.60 335.5,239.07 335.9,239.54 336.3,240.01 336.6,240.48 337.0,240.94 337.4,241.41 337.8,241.88 338.2,242.34 338.5,242.80 338.9,243.26 339.3,243.73 339.7,244.18 340.1,244.64 340.5,245.10 340.9,245.55 341.3,246.01 341.7,246.46 342.1,246.91 342.5,247.36 342.9,247.81 343.3,248.25 343.7,248.69 344.1,249.14 344.5,249.57 344.9,250.01 345.3,250.45 345.7,250.88 346.1,251.31 346.6,251.74 347.0,252.16 347.4,252.58 347.8,253.00 348.3,253.42 348.7,253.83 349.1,254.25 349.6,254.65 350.0,255.06 350.5,255.46 350.9,255.86 351.4,256.25 351.8,256.65 352.3,257.03 352.7,257.42 353.2,257.80 353.7,258.18 354.2,258.55 354.6,258.92 355.1,259.28 355.6,259.64 356.1,260.00 356.6,260.35 357.0,260.70 357.5,261.04 358.0,261.38 358.5,261.71 359.0,262.04 359.5,262.36 360.0,262.68 360.6,262.99 361.1,263.30 361.6,263.61 362.1,263.91 362.6,264.20 363.2,264.50 363.7,264.78 364.2,265.07 364.7,265.35 365.3,265.62 365.8,265.89 366.4,266.16 366.9,266.42 367.4,266.68 368.0,266.94 368.5,267.19 369.1,267.44 369.6,267.68 370.2,267.93 370.7,268.16 371.3,268.40 371.8,268.63 372.4,268.86 372.9,269.09 373.5,269.31 374.1,269.53 374.6,269.75 375.2,269.96 375.7,270.18 376.3,270.39 376.9,270.59 377.4,270.80 378.0,271.00 378.6,271.20 379.1,271.40 379.7,271.59 380.3,271.79 380.8,271.98 381.4,272.16 382.0,272.35 382.5,272.53 383.1,272.72 383.7,272.90 384.3,273.07 384.8,273.25 385.4,273.43 386.0,273.60 386.6,273.77 387.1,273.94 387.7,274.10 388.3,274.27 388.9,274.43 389.4,274.59 390.0,274.75 390.6,274.91 391.2,275.07 391.8,275.22 392.3,275.38 392.9,275.53 393.5,275.68 394.1,275.83 394.7,275.97 395.2,276.12 395.8,276.27 396.4,276.41 397.0,276.55 397.6,276.69 398.2,276.83 398.7,276.97 399.3,277.11 399.9,277.24 400.5,277.38 401.1,277.51 401.7,277.65 402.3,277.78 402.8,277.91 403.4,278.04 404.0,278.17 404.6,278.29 405.2,278.42 405.8,278.55 406.4,278.67 407.0,278.80 407.5,278.92 408.1,279.04 408.7,279.17 409.3,279.29 409.9,279.41 410.5,279.53 411.1,279.65 411.7,279.77 412.2,279.89 412.8,280.01 413.4,280.12 414.0,280.24 414.6,280.36 415.2,280.47 415.8,280.59 416.4,280.71 417.0,280.82 417.5,280.94 418.1,281.05 418.7,281.17 419.3,281.29 419.9,281.40 420.5,281.52 421.1,281.63 421.7,281.75 422.3,281.86 422.8,281.98 423.4,282.09 424.0,282.21 424.6,282.32 425.2,282.44 425.8,282.56 426.4,282.67 427.0,282.79 427.6,282.91 428.1,283.02 428.7,283.14 429.3,283.26 429.9,283.38 430.5,283.49 431.1,283.61 431.7,283.73 432.3,283.85 432.9,283.97 433.4,284.09 434.0,284.21 434.6,284.32 435.2,284.44 435.8,284.56 436.4,284.68 437.0,284.79 437.6,284.91 438.2,285.03 438.7,285.15 439.3,285.26 439.9,285.38 440.5,285.49 441.1,285.61 441.7,285.72 442.3,285.84 442.9,285.95 443.5,286.06 444.0,286.17 444.6,286.28 445.2,286.39 445.8,286.50 446.4,286.61 447.0,286.72 447.6,286.83 448.2,286.93 448.8,287.04 449.4,287.14 450.0,287.24 450.5,287.35 451.1,287.45 451.7,287.55 452.3,287.64 452.9,287.74 453.5,287.84 454.1,287.93 454.7,288.02 455.3,288.11 455.9,288.20 456.5,288.29 457.1,288.38 457.7,288.47 458.3,288.55 458.8,288.63 459.4,288.71 460.0,288.79 460.6,288.87 461.2,288.94 461.8,289.02 462.4,289.09 463.0,289.16 463.6,289.23 464.2,289.29 464.8,289.35 465.4,289.42 466.0,289.48 466.6,289.53 467.2,289.59 467.8,289.64 468.4,289.70 469.0,289.75 469.6,289.80 470.2,289.84 470.8,289.89 471.4,289.93 472.0,289.98 472.6,290.02 473.2,290.06 473.8,290.09 474.4,290.13 475.0,290.17 475.6,290.20 476.2,290.23 476.8,290.26 477.4,290.29 478.0,290.32 478.6,290.34 479.2,290.37 479.8,290.39 480.4,290.41 481.0,290.44 481.6,290.46 482.2,290.47 482.8,290.49 483.4,290.51 484.0,290.52 484.6,290.54 485.2,290.55 485.8,290.56 486.4,290.58 487.0,290.59 487.6,290.60 488.2,290.61 488.8,290.61 489.4,290.62 490.0,290.63 490.6,290.63 491.2,290.64 491.8,290.64 492.4,290.64 493.0,290.65 493.6,290.65 494.2,290.65 494.8,290.65 495.4,290.65 496.0,290.65 496.6,290.65 497.2,290.65 497.8,290.64 498.4,290.64 499.0,290.64 499.6,290.64 500.2,290.63 500.8,290.63 501.4,290.62 502.0,290.62 502.6,290.61 503.2,290.61 503.8,290.60 504.4,290.60 505.0,290.59 505.6,290.59 506.2,290.58 506.8,290.58 507.4,290.57 508.0,290.56 508.6,290.56 509.2,290.55 509.8,290.55 510.4,290.54 511.0,290.54 511.6,290.53 512.2,290.52 512.8,290.52 513.4,290.52 514.0,290.51 514.6,290.51 515.2,290.50 515.8,290.50 516.4,290.50 517.0,290.49 517.6,290.49 518.2,290.49 518.8,290.49 519.4,290.49 520.0,290.49 520.6,290.49 521.2,290.49 521.8,290.49 522.4,290.49 523.0,290.49 523.6,290.49 524.2,290.50 524.8,290.50 525.4,290.51 526.0,290.51 526.6,290.52 527.2,290.53 527.8,290.54 528.4,290.55 529.0,290.56 529.6,290.57 530.2,290.58 530.8,290.60 531.4,290.61 532.0,290.63 532.6,290.64 533.2,290.66 533.8,290.68 534.4,290.70 535.0,290.72 535.6,290.74 536.2,290.77 536.8,290.79 537.4,290.82 538.0,290.85 538.6,290.87 539.2,290.90 539.8,290.94 540.4,290.97 541.0,291.00"/>
<path stroke="#FA0482" d="M45.6,320.80 46.2,320.89 46.8,320.95 47.4,320.97 48.0,320.95 48.6,320.89 49.2,320.80 49.8,320.67 50.3,320.50 50.9,320.30 51.5,320.07 52.0,319.81 52.5,319.52 53.0,319.20 53.5,318.86 54.0,318.50 54.5,318.12 54.9,317.72 55.4,317.30 55.8,316.87 56.2,316.43 56.6,315.97 56.9,315.49 57.3,315.01 57.6,314.51 58.0,314.01 58.3,313.49 58.6,312.97 58.8,312.44 59.1,311.90 59.3,311.35 59.6,310.80 59.8,310.24 60.0,309.68 60.2,309.11 60.4,308.54 60.6,307.97 60.7,307.39 60.9,306.81 61.0,306.23 61.2,305.64 61.3,305.06 61.5,304.47 61.6,303.88 61.7,303.30 61.8,302.71 61.9,302.12 62.0,301.53 62.1,300.94 62.3,300.35 62.4,299.76 62.5,299.17 62.6,298.58 62.7,297.99 62.8,297.40 62.9,296.81 63.0,296.22 63.2,295.63 63.3,295.04 63.4,294.45 63.5,293.86 63.6,293.27 63.8,292.68 63.9,292.10 64.0,291.51 64.1,290.92 64.3,290.34 64.4,289.75 64.5,289.16 64.7,288.58 64.8,287.99 64.9,287.41 65.1,286.82 65.2,286.24 65.3,285.66 65.5,285.07 65.6,284.49 65.8,283.91 65.9,283.33 66.1,282.75 66.3,282.17 66.4,281.59 66.6,281.01 66.8,280.44 66.9,279.86 67.1,279.29 67.3,278.71 67.4,278.14 67.6,277.57 67.8,276.99 68.0,276.42 68.2,275.85 68.4,275.28 68.5,274.71 68.7,274.13 68.9,273.56 69.1,272.99 69.3,272.41 69.4,271.84 69.6,271.26 69.8,270.69 69.9,270.11 70.1,269.53 70.3,268.95 70.4,268.37 70.6,267.79 70.7,267.21 70.9,266.63 71.0,266.05 71.2,265.48 71.4,264.90 71.5,264.32 71.7,263.75 71.9,263.18 72.1,262.61 72.3,262.05 72.5,261.49 72.7,260.93 73.0,260.38 73.2,259.83 73.5,259.30 73.8,258.77 74.1,258.25 74.4,257.75 74.8,257.26 75.1,256.78 75.5,256.33 76.0,255.90 76.4,255.49 76.9,255.10 77.3,254.74 77.8,254.41 78.3,254.09 78.9,253.81 79.4,253.55 80.0,253.31 80.5,253.10 81.1,252.91 81.7,252.74 82.3,252.60 82.8,252.48 83.4,252.38 84.0,252.30 84.6,252.24 85.2,252.19 85.8,252.16 86.4,252.15 87.0,252.14 87.6,252.15 88.2,252.17 88.8,252.19 89.4,252.23 90.0,252.26 90.6,252.31 91.2,252.36 91.8,252.41 92.4,252.46 93.0,252.51 93.6,252.56 94.2,252.62 94.8,252.67 95.4,252.71 96.0,252.76 96.6,252.79 97.2,252.82 97.8,252.85 98.4,252.87 99.0,252.88 99.6,252.89 100.2,252.90 100.8,252.89 101.4,252.89 102.0,252.87 102.6,252.85 103.2,252.83 103.8,252.80 104.4,252.77 105.0,252.73 105.6,252.68 106.2,252.64 106.8,252.58 107.4,252.53 108.0,252.47 108.6,252.41 109.2,252.34 109.8,252.27 110.4,252.19 111.0,252.12 111.6,252.04 112.2,251.95 112.8,251.87 113.4,251.78 114.0,251.69 114.6,251.60 115.1,251.51 115.7,251.42 116.3,251.32 116.9,251.23 117.5,251.13 118.1,251.04 118.7,250.94 119.3,250.84 119.9,250.74 120.5,250.64 121.1,250.54 121.7,250.44 122.3,250.34 122.8,250.24 123.4,250.14 124.0,250.03 124.6,249.93 125.2,249.82 125.8,249.72 126.4,249.61 127.0,249.50 127.6,249.39 128.2,249.28 128.8,249.16 129.3,249.05 129.9,248.93 130.5,248.82 131.1,248.70 131.7,248.58 132.3,248.45 132.9,248.33 133.5,248.20 134.0,248.08 134.6,247.95 135.2,247.82 135.8,247.68 136.4,247.55 137.0,247.41 137.6,247.27 138.1,247.13 138.7,246.99 139.3,246.84 139.9,246.70 140.5,246.55 141.1,246.39 141.6,246.24 142.2,246.08 142.8,245.92 143.4,245.76 143.9,245.59 144.5,245.43 145.1,245.26 145.7,245.08 146.3,244.91 146.8,244.73 147.4,244.55 148.0,244.36 148.5,244.17 149.1,243.98 149.7,243.79 150.2,243.59 150.8,243.39 151.4,243.18 151.9,242.98 152.5,242.77 153.1,242.55 153.6,242.33 154.2,242.11 154.7,241.88 155.3,241.65 155.8,241.42 156.4,241.18 156.9,240.94 157.5,240.69 158.0,240.44 158.6,240.19 159.1,239.93 159.7,239.66 160.2,239.40 160.7,239.12 161.3,238.85 161.8,238.57 162.3,238.28 162.8,237.99 163.4,237.70 163.9,237.40 164.4,237.09 164.9,236.79 165.4,236.48 166.0,236.16 166.5,235.84 167.0,235.52 167.5,235.19 168.0,234.86 168.5,234.53 169.0,234.19 169.5,233.85 170.0,233.51 170.4,233.16 170.9,232.81 171.4,232.46 171.9,232.10 172.4,231.74 172.9,231.38 173.3,231.01 173.8,230.65 174.3,230.27 174.8,229.90 175.2,229.52 175.7,229.14 176.2,228.76 176.6,228.38 177.1,227.99 177.5,227.60 178.0,227.21 178.4,226.82 178.9,226.43 179.3,226.03 179.8,225.63 180.2,225.23 180.7,224.83 181.1,224.42 181.6,224.01 182.0,223.61 182.5,223.20 182.9,222.79 183.3,222.37 183.8,221.96 184.2,221.54 184.6,221.13 185.1,220.71 185.5,220.29 185.9,219.87 186.3,219.45 186.8,219.02 187.2,218.60 187.6,218.18 188.0,217.75 188.5,217.32 188.9,216.90 189.3,216.47 189.7,216.04 190.2,215.61 190.6,215.18 191.0,214.75 191.4,214.32 191.8,213.89 192.2,213.46 192.7,213.02 193.1,212.59 193.5,212.16 193.9,211.73 194.3,211.29 194.7,210.86 195.2,210.42 195.6,209.99 196.0,209.56 196.4,209.12 196.8,208.69 197.2,208.26 197.6,207.82 198.1,207.39 198.5,206.96 198.9,206.52 199.3,206.09 199.7,205.66 200.1,205.23 200.6,204.80 201.0,204.36 201.4,203.93 201.8,203.50 202.2,203.07 202.7,202.65 203.1,202.22 203.5,201.79 203.9,201.37 204.4,200.94 204.8,200.52 205.2,200.09 205.6,199.67 206.1,199.25 206.5,198.83 206.9,198.41 207.3,197.99 207.8,197.57 208.2,197.16 208.6,196.74 209.1,196.33 209.5,195.92 210.0,195.51 210.4,195.10 210.8,194.69 211.3,194.28 211.7,193.88 212.2,193.48 212.6,193.08 213.1,192.68 213.5,192.28 214.0,191.89 214.4,191.49 214.9,191.10 215.3,190.71 215.8,190.32 216.3,189.94 216.7,189.56 217.2,189.18 217.7,188.80 218.1,188.43 218.6,188.06 219.1,187.70 219.6,187.34 220.0,186.98 220.5,186.63 221.0,186.28 221.5,185.94 222.0,185.61 222.5,185.28 223.0,184.96 223.5,184.65 224.1,184.34 224.6,184.04 225.1,183.75 225.6,183.47 226.2,183.20 226.7,182.94 227.3,182.69 227.8,182.45 228.4,182.23 228.9,182.01 229.5,181.82 230.1,181.63 230.6,181.46 231.2,181.30 231.8,181.16 232.4,181.04 233.0,180.94 233.6,180.85 234.2,180.78 234.8,180.73 235.4,180.70 236.0,180.68 236.6,180.69 237.2,180.72 237.8,180.76 238.4,180.83 239.0,180.91 239.5,181.01 240.1,181.14 240.7,181.28 241.3,181.43 241.9,181.61 242.4,181.80 243.0,182.02 243.6,182.25 244.1,182.49 244.6,182.76 245.2,183.05 245.7,183.35 246.2,183.68 246.7,184.03 247.2,184.40 247.6,184.80 248.0,185.21 248.4,185.65 248.8,186.10 249.2,186.56 249.6,187.03 250.0,187.50 250.3,187.98 250.7,188.45 251.1,188.91 251.5,189.37 251.9,189.83 252.3,190.28 252.7,190.72 253.1,191.16 253.5,191.60 253.9,192.04 254.3,192.47 254.7,192.89 255.2,193.32 255.6,193.74 256.0,194.16 256.5,194.58 256.9,195.00 257.3,195.41 257.8,195.83 258.2,196.24 258.6,196.66 259.1,197.08 259.5,197.49 259.9,197.91 260.3,198.33 260.8,198.75 261.2,199.18 261.6,199.60 262.0,200.03 262.5,200.46 262.9,200.89 263.3,201.33 263.7,201.76 264.1,202.20 264.5,202.64 264.9,203.09 265.3,203.53 265.7,203.98 266.1,204.42 266.5,204.87 266.9,205.32 267.3,205.78 267.7,206.23 268.1,206.69 268.5,207.15 268.9,207.61 269.3,208.07 269.7,208.53 270.0,209.00 270.4,209.46 270.8,209.93 271.2,210.40 271.5,210.87 271.9,211.34 272.3,211.82 272.6,212.29 273.0,212.77 273.4,213.24 273.7,213.72 274.1,214.20 274.5,214.68 274.8,215.16 275.2,215.65 275.5,216.13 275.9,216.61 276.2,217.10 276.6,217.59 276.9,218.07 277.3,218.56 277.6,219.05 278.0,219.54 278.3,220.03 278.7,220.53 279.0,221.02 279.4,221.51 279.7,222.01 280.0,222.50 280.4,223.00 280.7,223.50 281.1,223.99 281.4,224.49 281.7,224.99 282.1,225.49 282.4,225.99 282.7,226.49 283.1,226.99 283.4,227.49 283.7,227.99 284.0,228.49 284.4,228.99 284.7,229.50 285.0,230.00 285.4,230.50 285.7,231.01 286.0,231.51 286.3,232.01 286.7,232.52 287.0,233.02 287.3,233.53 287.6,234.03 288.0,234.54 288.3,235.04 288.6,235.55 288.9,236.05 289.3,236.56 289.6,237.06 289.9,237.57 290.2,238.08 290.6,238.58 290.9,239.09 291.2,239.59 291.5,240.10 291.9,240.60 292.2,241.11 292.5,241.61 292.8,242.12 293.2,242.62 293.5,243.12 293.8,243.63 294.1,244.13 294.5,244.63 294.8,245.14 295.1,245.64 295.5,246.14 295.8,246.64 296.1,247.14 296.5,247.65 296.8,248.15 297.1,248.65 297.4,249.15 297.8,249.64 298.1,250.14 298.5,250.64 298.8,251.14 299.1,251.63 299.5,252.13 299.8,252.63 300.1,253.12 300.5,253.61 300.8,254.11 301.2,254.60 301.5,255.09 301.9,255.58 302.2,256.07 302.6,256.56 302.9,257.05 303.3,257.53 303.6,258.02 304.0,258.51 304.3,258.99 304.7,259.47 305.0,259.96 305.4,260.44 305.8,260.92 306.1,261.39 306.5,261.87 306.9,262.35 307.2,262.82 307.6,263.30 308.0,263.77 308.3,264.24 308.7,264.71 309.1,265.18 309.5,265.65 309.8,266.12 310.2,266.58 310.6,267.05 311.0,267.51 311.4,267.97 311.7,268.43 312.1,268.89 312.5,269.35 312.9,269.80 313.3,270.26 313.7,270.71 314.1,271.16 314.5,271.61 314.9,272.06 315.3,272.51 315.7,272.95 316.1,273.39 316.5,273.83 316.9,274.27 317.3,274.71 317.7,275.15 318.2,275.58 318.6,276.01 319.0,276.44 319.4,276.87 319.8,277.30 320.3,277.72 320.7,278.15 321.1,278.57 321.6,278.98 322.0,279.40 322.4,279.81 322.9,280.22 323.3,280.63 323.7,281.04 324.2,281.45 324.6,281.85 325.1,282.25 325.5,282.65 326.0,283.04 326.4,283.43 326.9,283.83 327.3,284.21 327.8,284.60 328.3,284.98 328.7,285.36 329.2,285.74 329.7,286.11 330.1,286.48 330.6,286.85 331.1,287.22 331.6,287.58 332.1,287.94 332.5,288.30 333.0,288.65 333.5,289.00 334.0,289.35 334.5,289.69 335.0,290.04 335.5,290.37 336.0,290.71 336.5,291.04 337.0,291.37 337.5,291.69 338.0,292.01 338.5,292.33 339.0,292.64 339.5,292.96 340.1,293.26 340.6,293.56 341.1,293.86 341.6,294.16 342.1,294.45 342.7,294.74 343.2,295.02 343.7,295.30 344.3,295.58 344.8,295.85 345.3,296.12 345.9,296.38 346.4,296.64 347.0,296.90 347.5,297.15 348.0,297.40 348.6,297.64 349.1,297.88 349.7,298.12 350.3,298.35 350.8,298.57 351.4,298.79 351.9,299.01 352.5,299.22 353.1,299.43 353.6,299.63 354.2,299.83 354.8,300.03 355.3,300.22 355.9,300.41 356.5,300.59 357.0,300.77 357.6,300.94 358.2,301.11 358.8,301.27 359.3,301.43 359.9,301.59 360.5,301.74 361.1,301.88 361.7,302.02 362.3,302.16 362.8,302.29 363.4,302.42 364.0,302.54 364.6,302.66 365.2,302.77 365.8,302.88 366.4,302.98 367.0,303.08 367.6,303.17 368.2,303.26 368.8,303.35 369.4,303.42 369.9,303.50 370.5,303.57 371.1,303.63 371.7,303.69 372.3,303.74 372.9,303.79 373.5,303.84 374.1,303.87 374.7,303.91 375.3,303.94 375.9,303.96 376.5,303.98 377.1,303.99 377.7,304.00 378.3,304.00 378.9,303.99 379.5,303.98 380.1,303.97 380.7,303.95 381.3,303.93 381.9,303.90 382.5,303.86 383.1,303.83 383.7,303.79 384.3,303.75 384.9,303.72 385.5,303.68 386.1,303.64 386.7,303.61 387.3,303.58 387.9,303.56 388.5,303.54 389.1,303.53 389.7,303.53 390.3,303.53 390.9,303.55 391.5,303.57 392.1,303.61 392.7,303.66 393.3,303.72 393.9,303.80 394.5,303.89 395.1,304.00 395.7,304.13 396.3,304.27 396.9,304.42 397.4,304.59 398.0,304.77 398.6,304.96 399.1,305.15 399.7,305.36 400.3,305.58 400.8,305.80 401.4,306.03 401.9,306.26 402.5,306.50 403.0,306.74 403.6,306.99 404.1,307.23 404.7,307.48 405.2,307.73 405.8,307.98 406.3,308.23 406.9,308.48 407.4,308.73 408.0,308.97 408.5,309.21 409.1,309.45 409.6,309.68 410.2,309.91 410.7,310.14 411.3,310.36 411.8,310.58 412.4,310.79 413.0,311.00 413.5,311.21 414.1,311.42 414.7,311.62 415.2,311.81 415.8,312.01 416.4,312.20 416.9,312.39 417.5,312.57 418.1,312.75 418.7,312.93 419.2,313.11 419.8,313.28 420.4,313.45 421.0,313.61 421.5,313.78 422.1,313.94 422.7,314.10 423.3,314.25 423.9,314.40 424.4,314.55 425.0,314.70 425.6,314.84 426.2,314.99 426.8,315.12 427.4,315.26 427.9,315.40 428.5,315.53 429.1,315.66 429.7,315.78 430.3,315.91 430.9,316.03 431.5,316.15 432.0,316.27 432.6,316.39 433.2,316.50 433.8,316.62 434.4,316.73 435.0,316.84 435.6,316.95 436.2,317.05 436.8,317.16 437.4,317.26 438.0,317.36 438.5,317.46 439.1,317.56 439.7,317.65 440.3,317.75 440.9,317.84 441.5,317.93 442.1,318.03 442.7,318.12 443.3,318.20 443.9,318.29 444.5,318.38 445.1,318.46 445.7,318.54 446.3,318.63 446.9,318.71 447.5,318.79 448.1,318.86 448.6,318.94 449.2,319.02 449.8,319.09 450.4,319.17 451.0,319.24 451.6,319.31 452.2,319.38 452.8,319.45 453.4,319.51 454.0,319.58 454.6,319.65 455.2,319.71 455.8,319.77 456.4,319.83 457.0,319.90 457.6,319.96 458.2,320.01 458.8,320.07 459.4,320.13 460.0,320.18 460.6,320.24 461.2,320.29 461.8,320.34 462.4,320.40 463.0,320.45 463.6,320.50 464.2,320.54 464.8,320.59 465.4,320.64 466.0,320.68 466.6,320.73 467.2,320.77 467.8,320.81 468.4,320.86 469.0,320.90 469.6,320.94 470.2,320.98 470.8,321.02 471.4,321.05 472.0,321.09 472.6,321.13 473.2,321.16 473.8,321.20 474.4,321.23 475.0,321.26 475.6,321.30 476.2,321.33 476.8,321.36 477.4,321.39 478.0,321.42 478.6,321.45 479.2,321.47 479.8,321.50 480.4,321.53 481.0,321.55 481.6,321.58 482.2,321.60 482.8,321.63 483.4,321.65 484.0,321.67 484.6,321.69 485.2,321.72 485.8,321.74 486.4,321.76 487.0,321.78 487.6,321.80 488.2,321.81 488.8,321.83 489.4,321.85 490.0,321.87 490.6,321.88 491.2,321.90 491.8,321.92 492.4,321.93 493.0,321.95 493.6,321.96 494.2,321.97 494.8,321.99 495.4,322.00 496.0,322.01 496.6,322.03 497.2,322.04 497.8,322.05 498.4,322.06 499.0,322.07 499.6,322.08 500.2,322.09 500.8,322.10 501.4,322.11 502.0,322.12 502.6,322.13 503.2,322.14 503.8,322.15 504.4,322.15 505.0,322.16 505.6,322.17 506.2,322.18 506.8,322.18 507.4,322.19 508.0,322.20 508.6,322.20 509.2,322.21 509.8,322.22 510.4,322.22 511.0,322.23 511.6,322.24 512.2,322.24 512.8,322.25 513.4,322.25 514.0,322.26 514.6,322.26 515.2,322.27 515.8,322.27 516.4,322.28 517.0,322.29 517.6,322.29 518.2,322.30 518.8,322.30 519.4,322.31 520.0,322.31 520.6,322.32 521.2,322.32 521.8,322.33 522.4,322.33 523.0,322.34 523.6,322.35 524.2,322.35 524.8,322.36 525.4,322.36 526.0,322.37 526.6,322.38 527.2,322.38 527.8,322.39 528.4,322.40 529.0,322.40 529.6,322.41 530.2,322.42 530.8,322.42 531.4,322.43 532.0,322.44 532.6,322.45 533.2,322.46 533.8,322.47 534.4,322.48 535.0,322.48 535.6,322.49 536.2,322.50 536.8,322.51 537.4,322.53 538.0,322.54 538.6,322.55 539.2,322.56 539.8,322.57 540.4,322.58 541.0,322.60"/>
<path stroke="#3A3A3A" d="M45.6,348.41 46.2,348.24 46.7,348.06 47.3,347.86 47.9,347.64 48.4,347.41 49.0,347.16 49.5,346.89 50.0,346.61 50.6,346.31 51.1,345.99 51.6,345.66 52.1,345.32 52.5,344.96 53.0,344.59 53.5,344.20 53.9,343.80 54.4,343.39 54.8,342.96 55.2,342.53 55.6,342.08 56.0,341.63 56.4,341.16 56.7,340.69 57.1,340.21 57.4,339.72 57.8,339.22 58.1,338.72 58.4,338.22 58.7,337.70 59.0,337.19 59.3,336.66 59.6,336.14 59.9,335.61 60.2,335.08 60.5,334.54 60.7,334.00 61.0,333.46 61.2,332.91 61.5,332.37 61.7,331.82 62.0,331.27 62.2,330.72 62.4,330.16 62.7,329.61 62.9,329.05 63.1,328.50 63.3,327.94 63.6,327.38 63.8,326.83 64.0,326.27 64.2,325.71 64.4,325.15 64.7,324.60 64.9,324.04 65.1,323.48 65.4,322.93 65.6,322.38 65.8,321.83 66.1,321.28 66.3,320.74 66.6,320.20 66.9,319.66 67.1,319.13 67.4,318.60 67.7,318.07 68.0,317.56 68.3,317.05 68.7,316.54 69.0,316.05 69.4,315.57 69.7,315.09 70.1,314.63 70.5,314.18 70.9,313.75 71.4,313.33 71.8,312.93 72.3,312.54 72.7,312.18 73.2,311.83 73.7,311.51 74.2,311.20 74.8,310.91 75.3,310.63 75.8,310.37 76.4,310.14 77.0,309.91 77.5,309.71 78.1,309.52 78.7,309.35 79.2,309.19 79.8,309.05 80.4,308.92 81.0,308.81 81.6,308.71 82.2,308.63 82.8,308.55 83.4,308.49 84.0,308.44 84.6,308.40 85.2,308.36 85.8,308.34 86.4,308.32 87.0,308.32 87.6,308.31 88.2,308.32 88.8,308.33 89.4,308.34 90.0,308.36 90.6,308.38 91.2,308.41 91.8,308.43 92.4,308.46 93.0,308.49 93.6,308.52 94.2,308.56 94.8,308.59 95.4,308.62 96.0,308.65 96.6,308.68 97.2,308.71 97.8,308.73 98.4,308.75 99.0,308.77 99.6,308.79 100.2,308.80 100.8,308.81 101.4,308.81 102.0,308.82 102.6,308.82 103.2,308.82 103.8,308.81 104.4,308.81 105.0,308.80 105.6,308.79 106.2,308.77 106.8,308.76 107.4,308.74 108.0,308.72 108.6,308.70 109.2,308.67 109.8,308.64 110.4,308.62 111.0,308.59 111.6,308.55 112.2,308.52 112.8,308.48 113.4,308.45 114.0,308.41 114.6,308.37 115.2,308.33 115.8,308.28 116.4,308.24 117.0,308.19 117.5,308.15 118.1,308.10 118.7,308.05 119.3,308.00 119.9,307.95 120.5,307.90 121.1,307.85 121.7,307.80 122.3,307.75 122.9,307.69 123.5,307.64 124.1,307.59 124.7,307.53 125.3,307.48 125.9,307.42 126.5,307.37 127.1,307.32 127.7,307.26 128.3,307.21 128.9,307.15 129.5,307.10 130.1,307.05 130.7,306.99 131.3,306.94 131.9,306.89 132.5,306.84 133.1,306.79 133.7,306.73 134.3,306.68 134.9,306.63 135.5,306.57 136.1,306.52 136.7,306.46 137.3,306.41 137.9,306.35 138.5,306.29 139.1,306.23 139.7,306.17 140.3,306.11 140.9,306.04 141.5,305.97 142.1,305.91 142.6,305.84 143.2,305.76 143.8,305.69 144.4,305.61 145.0,305.53 145.6,305.45 146.2,305.36 146.8,305.27 147.4,305.18 148.0,305.09 148.6,304.99 149.2,304.89 149.8,304.78 150.4,304.67 150.9,304.56 151.5,304.44 152.1,304.32 152.7,304.20 153.3,304.07 153.9,303.94 154.5,303.80 155.1,303.65 155.6,303.51 156.2,303.36 156.8,303.20 157.4,303.04 157.9,302.87 158.5,302.70 159.1,302.53 159.7,302.35 160.2,302.16 160.8,301.98 161.4,301.79 161.9,301.59 162.5,301.39 163.1,301.18 163.6,300.97 164.2,300.76 164.8,300.54 165.3,300.32 165.9,300.09 166.4,299.86 167.0,299.63 167.5,299.39 168.1,299.15 168.6,298.90 169.2,298.65 169.7,298.40 170.3,298.14 170.8,297.88 171.3,297.62 171.9,297.35 172.4,297.07 172.9,296.80 173.5,296.52 174.0,296.23 174.5,295.95 175.1,295.66 175.6,295.36 176.1,295.06 176.6,294.76 177.1,294.46 177.6,294.15 178.2,293.84 178.7,293.52 179.2,293.20 179.7,292.88 180.2,292.55 180.7,292.23 181.2,291.90 181.7,291.56 182.2,291.22 182.7,290.88 183.2,290.54 183.7,290.19 184.1,289.84 184.6,289.49 185.1,289.13 185.6,288.77 186.1,288.41 186.6,288.05 187.0,287.68 187.5,287.31 188.0,286.93 188.4,286.56 188.9,286.18 189.4,285.80 189.8,285.41 190.3,285.03 190.7,284.64 191.2,284.24 191.6,283.85 192.1,283.45 192.5,283.05 193.0,282.65 193.4,282.24 193.9,281.84 194.3,281.43 194.7,281.02 195.2,280.60 195.6,280.18 196.0,279.76 196.5,279.34 196.9,278.92 197.3,278.49 197.7,278.06 198.2,277.63 198.6,277.20 199.0,276.76 199.4,276.33 199.8,275.89 200.2,275.45 200.6,275.00 201.0,274.56 201.4,274.11 201.8,273.66 202.2,273.21 202.6,272.76 203.0,272.31 203.4,271.85 203.8,271.40 204.2,270.95 204.6,270.49 205.0,270.04 205.4,269.59 205.7,269.13 206.1,268.68 206.5,268.23 206.9,267.78 207.3,267.33 207.7,266.88 208.1,266.43 208.5,265.99 208.9,265.54 209.3,265.10 209.8,264.67 210.2,264.23 210.6,263.80 211.0,263.37 211.4,262.94 211.9,262.52 212.3,262.10 212.7,261.69 213.2,261.28 213.6,260.87 214.0,260.47 214.5,260.08 215.0,259.69 215.4,259.31 215.9,258.93 216.4,258.56 216.8,258.20 217.3,257.84 217.8,257.50 218.3,257.16 218.8,256.82 219.3,256.50 219.8,256.19 220.3,255.88 220.9,255.59 221.4,255.30 221.9,255.03 222.5,254.77 223.0,254.52 223.6,254.29 224.1,254.08 224.7,253.89 225.3,253.72 225.9,253.57 226.4,253.45 227.0,253.35 227.6,253.29 228.2,253.25 228.8,253.26 229.4,253.29 230.0,253.36 230.6,253.45 231.2,253.57 231.8,253.71 232.4,253.87 232.9,254.04 233.5,254.24 234.1,254.44 234.6,254.66 235.2,254.90 235.7,255.14 236.3,255.39 236.8,255.65 237.4,255.92 237.9,256.20 238.4,256.49 238.9,256.78 239.5,257.09 240.0,257.40 240.5,257.71 241.0,258.04 241.5,258.37 242.0,258.70 242.5,259.04 243.0,259.39 243.5,259.74 243.9,260.09 244.4,260.45 244.9,260.81 245.4,261.18 245.8,261.54 246.3,261.91 246.8,262.29 247.3,262.66 247.7,263.04 248.2,263.42 248.7,263.80 249.1,264.18 249.6,264.56 250.0,264.94 250.5,265.33 251.0,265.71 251.4,266.09 251.9,266.48 252.4,266.86 252.8,267.24 253.3,267.62 253.7,268.00 254.2,268.38 254.7,268.76 255.1,269.13 255.6,269.51 256.1,269.88 256.6,270.25 257.0,270.62 257.5,271.00 258.0,271.37 258.4,271.74 258.9,272.10 259.4,272.47 259.9,272.84 260.3,273.21 260.8,273.58 261.3,273.95 261.8,274.31 262.2,274.68 262.7,275.05 263.2,275.42 263.7,275.79 264.1,276.16 264.6,276.53 265.1,276.90 265.5,277.28 266.0,277.65 266.5,278.03 266.9,278.40 267.4,278.78 267.9,279.16 268.3,279.54 268.8,279.92 269.3,280.30 269.7,280.69 270.2,281.08 270.6,281.47 271.1,281.86 271.5,282.25 272.0,282.65 272.4,283.05 272.9,283.45 273.3,283.85 273.8,284.25 274.2,284.66 274.7,285.07 275.1,285.48 275.5,285.89 276.0,286.30 276.4,286.72 276.8,287.14 277.3,287.55 277.7,287.97 278.1,288.39 278.6,288.82 279.0,289.24 279.4,289.67 279.8,290.09 280.2,290.52 280.7,290.95 281.1,291.38 281.5,291.81 281.9,292.24 282.3,292.67 282.8,293.10 283.2,293.54 283.6,293.97 284.0,294.41 284.4,294.85 284.8,295.28 285.2,295.72 285.6,296.16 286.0,296.59 286.5,297.03 286.9,297.47 287.3,297.91 287.7,298.35 288.1,298.79 288.5,299.23 288.9,299.67 289.3,300.11 289.7,300.55 290.1,300.99 290.5,301.43 290.9,301.87 291.4,302.31 291.8,302.75 292.2,303.19 292.6,303.63 293.0,304.07 293.4,304.50 293.8,304.94 294.2,305.38 294.6,305.81 295.1,306.25 295.5,306.69 295.9,307.12 296.3,307.55 296.7,307.98 297.1,308.42 297.5,308.85 298.0,309.28 298.4,309.70 298.8,310.13 299.2,310.56 299.7,310.98 300.1,311.40 300.5,311.83 300.9,312.25 301.4,312.66 301.8,313.08 302.2,313.50 302.7,313.91 303.1,314.32 303.5,314.73 304.0,315.14 304.4,315.54 304.9,315.95 305.3,316.35 305.8,316.75 306.2,317.14 306.7,317.54 307.1,317.93 307.6,318.32 308.0,318.70 308.5,319.08 309.0,319.46 309.4,319.84 309.9,320.21 310.4,320.58 310.9,320.95 311.3,321.32 311.8,321.68 312.3,322.03 312.8,322.39 313.3,322.74 313.8,323.08 314.2,323.43 314.7,323.77 315.2,324.10 315.7,324.44 316.2,324.77 316.7,325.09 317.2,325.42 317.8,325.74 318.3,326.05 318.8,326.36 319.3,326.67 319.8,326.98 320.3,327.28 320.8,327.58 321.4,327.88 321.9,328.17 322.4,328.46 322.9,328.75 323.5,329.03 324.0,329.31 324.5,329.59 325.1,329.86 325.6,330.13 326.1,330.40 326.7,330.66 327.2,330.92 327.8,331.18 328.3,331.43 328.9,331.68 329.4,331.93 330.0,332.17 330.5,332.42 331.1,332.65 331.6,332.89 332.2,333.12 332.7,333.35 333.3,333.58 333.8,333.80 334.4,334.02 334.9,334.24 335.5,334.45 336.1,334.67 336.6,334.88 337.2,335.08 337.8,335.29 338.3,335.49 338.9,335.69 339.5,335.88 340.0,336.07 340.6,336.26 341.2,336.45 341.7,336.64 342.3,336.82 342.9,337.00 343.4,337.18 344.0,337.35 344.6,337.52 345.2,337.69 345.7,337.86 346.3,338.03 346.9,338.19 347.5,338.35 348.1,338.51 348.6,338.67 349.2,338.82 349.8,338.97 350.4,339.12 351.0,339.27 351.5,339.41 352.1,339.56 352.7,339.70 353.3,339.84 353.9,339.98 354.5,340.11 355.0,340.24 355.6,340.38 356.2,340.50 356.8,340.63 357.4,340.76 358.0,340.88 358.6,341.01 359.2,341.13 359.7,341.24 360.3,341.36 360.9,341.48 361.5,341.59 362.1,341.70 362.7,341.81 363.3,341.92 363.9,342.03 364.5,342.14 365.1,342.24 365.6,342.35 366.2,342.45 366.8,342.55 367.4,342.65 368.0,342.74 368.6,342.84 369.2,342.94 369.8,343.03 370.4,343.12 371.0,343.21 371.6,343.30 372.2,343.39 372.8,343.48 373.3,343.57 373.9,343.65 374.5,343.74 375.1,343.82 375.7,343.91 376.3,343.99 376.9,344.07 377.5,344.15 378.1,344.23 378.7,344.30 379.3,344.38 379.9,344.46 380.5,344.53 381.1,344.61 381.7,344.68 382.3,344.76 382.9,344.83 383.5,344.90 384.1,344.97 384.7,345.04 385.3,345.11 385.8,345.18 386.4,345.25 387.0,345.32 387.6,345.39 388.2,345.46 388.8,345.52 389.4,345.59 390.0,345.66 390.6,345.72 391.2,345.79 391.8,345.85 392.4,345.92 393.0,345.98 393.6,346.05 394.2,346.11 394.8,346.17 395.4,346.23 396.0,346.30 396.6,346.36 397.2,346.42 397.8,346.48 398.4,346.54 399.0,346.60 399.6,346.66 400.2,346.72 400.8,346.78 401.4,346.84 402.0,346.90 402.6,346.96 403.2,347.02 403.8,347.07 404.3,347.13 404.9,347.19 405.5,347.25 406.1,347.30 406.7,347.36 407.3,347.41 407.9,347.47 408.5,347.52 409.1,347.58 409.7,347.63 410.3,347.68 410.9,347.74 411.5,347.79 412.1,347.84 412.7,347.90 413.3,347.95 413.9,348.00 414.5,348.05 415.1,348.10 415.7,348.15 416.3,348.20 416.9,348.25 417.5,348.30 418.1,348.35 418.7,348.40 419.3,348.45 419.9,348.50 420.5,348.54 421.1,348.59 421.7,348.64 422.3,348.69 422.9,348.73 423.5,348.78 424.1,348.82 424.7,348.87 425.3,348.92 425.9,348.96 426.5,349.00 427.1,349.05 427.7,349.09 428.3,349.14 428.9,349.18 429.5,349.22 430.1,349.26 430.7,349.31 431.3,349.35 431.9,349.39 432.5,349.43 433.1,349.47 433.7,349.51 434.3,349.55 434.9,349.59 435.5,349.63 436.1,349.67 436.6,349.71 437.2,349.75 437.8,349.79 438.4,349.83 439.0,349.87 439.6,349.90 440.2,349.94 440.8,349.98 441.4,350.01 442.0,350.05 442.6,350.09 443.2,350.12 443.8,350.16 444.4,350.19 445.0,350.23 445.6,350.26 446.2,350.30 446.8,350.33 447.4,350.37 448.0,350.40 448.6,350.43 449.2,350.46 449.8,350.50 450.4,350.53 451.0,350.56 451.6,350.59 452.2,350.63 452.8,350.66 453.4,350.69 454.0,350.72 454.6,350.75 455.2,350.78 455.8,350.81 456.4,350.84 457.0,350.87 457.6,350.90 458.2,350.93 458.8,350.95 459.4,350.98 460.0,351.01 460.6,351.04 461.2,351.07 461.8,351.09 462.4,351.12 463.0,351.15 463.6,351.17 464.2,351.20 464.8,351.22 465.4,351.25 466.0,351.28 466.6,351.30 467.2,351.33 467.8,351.35 468.4,351.38 469.0,351.40 469.6,351.42 470.2,351.45 470.8,351.47 471.4,351.49 472.0,351.52 472.6,351.54 473.2,351.56 473.8,351.58 474.4,351.61 475.0,351.63 475.6,351.65 476.2,351.67 476.8,351.69 477.4,351.71 478.0,351.73 478.6,351.75 479.2,351.77 479.8,351.79 480.4,351.81 481.0,351.83 481.6,351.85 482.2,351.87 482.8,351.89 483.4,351.91 484.0,351.93 484.6,351.95 485.2,351.97 485.8,351.98 486.4,352.00 487.0,352.02 487.6,352.04 488.2,352.05 488.8,352.07 489.4,352.09 490.0,352.10 490.6,352.12 491.2,352.13 491.8,352.15 492.4,352.17 493.0,352.18 493.6,352.20 494.2,352.21 494.8,352.23 495.4,352.24 496.0,352.26 496.6,352.27 497.2,352.28 497.8,352.30 498.4,352.31 499.0,352.33 499.6,352.34 500.2,352.35 500.8,352.37 501.4,352.38 502.0,352.39 502.6,352.40 503.2,352.42 503.8,352.43 504.4,352.44 505.0,352.45 505.6,352.46 506.2,352.48 506.8,352.49 507.4,352.50 508.0,352.51 508.6,352.52 509.2,352.53 509.8,352.54 510.4,352.55 511.0,352.56 511.6,352.57 512.2,352.58 512.8,352.59 513.4,352.60 514.0,352.61 514.6,352.62 515.2,352.63 515.8,352.64 516.4,352.65 517.0,352.66 517.6,352.67 518.2,352.67 518.8,352.68 519.4,352.69 520.0,352.70 520.6,352.71 521.2,352.71 521.8,352.72 522.4,352.73 523.0,352.74 523.6,352.74 524.2,352.75 524.8,352.76 525.4,352.77 526.0,352.77 526.6,352.78 527.2,352.79 527.8,352.79 528.4,352.80 529.0,352.80 529.6,352.81 530.2,352.82 530.8,352.82 531.4,352.83 532.0,352.83 532.6,352.84 533.2,352.85 533.8,352.85 534.4,352.86 535.0,352.86 535.6,352.87 536.2,352.87 536.8,352.88 537.4,352.88 538.0,352.89 538.6,352.89 539.2,352.89 539.8,352.90 540.4,352.90 541.0,352.91"/>
</g>
<g stroke="#333" stroke-width="1.4" stroke-dasharray="6.98 6.98">
<line x1="187.13" y1="375.50" x2="187.13" y2="10.60"/>
<line x1="293.35" y1="375.50" x2="293.35" y2="10.60"/>
</g>
<g stroke="#000" stroke-width="1.5">
<line x1="80.91" y1="375.50" x2="80.91" y2="368.50"/><line x1="151.72" y1="375.50" x2="151.72" y2="368.50"/><line x1="222.54" y1="375.50" x2="222.54" y2="368.50"/><line x1="293.35" y1="375.50" x2="293.35" y2="368.50"/><line x1="364.16" y1="375.50" x2="364.16" y2="368.50"/><line x1="434.98" y1="375.50" x2="434.98" y2="368.50"/><line x1="505.79" y1="375.50" x2="505.79" y2="368.50"/><line x1="116.31" y1="375.50" x2="116.31" y2="371.90"/><line x1="187.13" y1="375.50" x2="187.13" y2="371.90"/><line x1="257.94" y1="375.50" x2="257.94" y2="371.90"/><line x1="328.76" y1="375.50" x2="328.76" y2="371.90"/><line x1="399.57" y1="375.50" x2="399.57" y2="371.90"/><line x1="470.39" y1="375.50" x2="470.39" y2="371.90"/>
</g>
<rect x="45.5" y="10.6" width="495.70" height="364.90" fill="none" stroke="#000" stroke-width="1.5"/>
<g font-size="15" text-anchor="middle">
<text transform="translate(80.91,395.2) scale(1,1.000)">100</text><text transform="translate(151.72,395.2) scale(1,1.000)">200</text><text transform="translate(222.54,395.2) scale(1,1.000)">300</text><text transform="translate(293.35,395.2) scale(1,1.000)">400</text><text transform="translate(364.16,395.2) scale(1,1.000)">500</text><text transform="translate(434.98,395.2) scale(1,1.000)">600</text><text transform="translate(505.79,395.2) scale(1,1.000)">700</text>
</g>
<g font-size="15.35" font-weight="bold" text-anchor="middle">
<text transform="translate(115.5,34.7) scale(1,1.03)">Weak</text>
<text transform="translate(244.6,34.7) scale(1,1.03)">Medium</text>
<text transform="translate(415.8,34.7) scale(1,1.03)">Strong</text>
</g>
<g font-size="15.2" text-anchor="end">
<text transform="translate(534.1,106.0) scale(1,1.042)">5H-T</text>
<text transform="translate(534.1,151.6) scale(1,1.042)">4H-T</text>
<text transform="translate(534.1,284.2) scale(1,1.042)">2H-T</text>
<text transform="translate(534.1,314.4) scale(1,1.042)">0.5H-T</text>
<text transform="translate(534.1,345.5) scale(1,1.042)">TiO<tspan font-size="11.5" dx="0.4" dy="4.7">2</tspan></text>
</g>
<text x="293.7" y="424.8" font-size="18.8" font-weight="bold" text-anchor="middle">Temperature (°C)</text>
<text transform="translate(22.2,192.7) rotate(-90)" font-size="18.6" font-weight="bold" text-anchor="middle">TCD signal (a.u.)</text>
</svg>
</body></html>
